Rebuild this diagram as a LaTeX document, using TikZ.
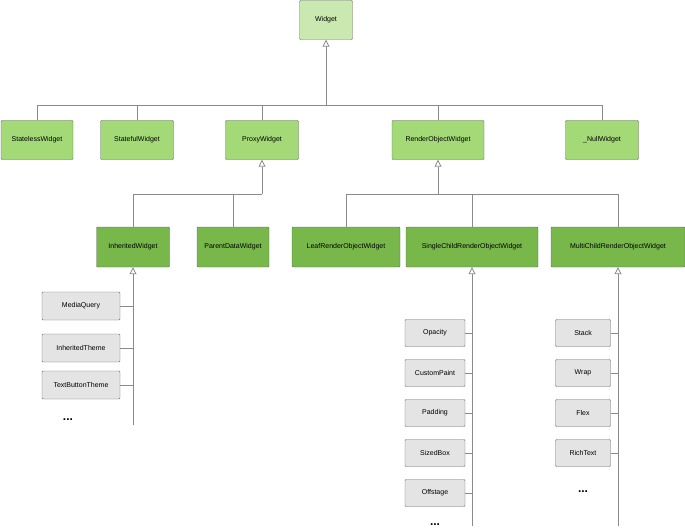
\documentclass[tikz,border=0pt]{standalone}
\usepackage{fontspec}
\setmainfont{Liberation Sans}
\usetikzlibrary{arrows.meta}
\definecolor{lightgreen}{HTML}{C9E9B0}
\definecolor{midgreen}{HTML}{A3D977}
\definecolor{darkgreen}{HTML}{78B84B}
\definecolor{boxgray}{HTML}{E4E4E4}
\definecolor{linegray}{HTML}{8A8A8A}
\tikzset{
  cls/.style={draw=black!60, rounded corners=1pt, font=\fontsize{7}{8}\selectfont, inner sep=0pt},
  extends/.style={draw=linegray, line width=0.8pt, -{Triangle[open, fill=white, length=7pt, width=7pt]}},
  link/.style={draw=linegray, line width=0.8pt}
}
\begin{document}
\begin{tikzpicture}[x=1pt, y=-1pt]
\useasboundingbox (0,0) rectangle (685,532);
% top
\node[cls, fill=lightgreen, minimum width=53pt, minimum height=39pt] (widget) at (326,20) {Widget};
% second row
\foreach \name/\txt/\x/\w in {stateless/StatelessWidget/37/72, stateful/StatefulWidget/137/73,
  proxy/ProxyWidget/262/73, render/RenderObjectWidget/438/92, nullw/\_NullWidget/602/73}
  \node[cls, fill=midgreen, minimum width=\w pt, minimum height=39pt] (\name) at (\x,140) {\txt};
% third row
\foreach \name/\txt/\x/\w in {inherited/InheritedWidget/133/73, parentdata/ParentDataWidget/233/72,
  leaf/LeafRenderObjectWidget/346/108, single/SingleChildRenderObjectWidget/472/132,
  multi/MultiChildRenderObjectWidget/618/134}
  \node[cls, fill=darkgreen, minimum width=\w pt, minimum height=40pt] (\name) at (\x,247) {\txt};
% leaves
\foreach \name/\txt/\y in {mq/MediaQuery/306, it/InheritedTheme/348, tbt/TextButtonTheme/385}
  \node[cls, fill=boxgray, minimum width=78pt, minimum height=28pt] (\name) at (81,\y) {\txt};
\foreach \name/\txt/\y in {opacity/Opacity/333, paint/CustomPaint/373, padding/Padding/413,
  sized/SizedBox/453, offstage/Offstage/493}
  \node[cls, fill=boxgray, minimum width=60pt, minimum height=27pt] (\name) at (435,\y) {\txt};
\foreach \name/\txt/\y in {stack/Stack/333, wrap/Wrap/373, flex/Flex/413, rich/RichText/453}
  \node[cls, fill=boxgray, minimum width=55pt, minimum height=27pt] (\name) at (583,\y) {\txt};
\node[font=\bfseries\large] (dotsa) at (68,420) {...};
\node[font=\bfseries\large] (dotsb) at (435,525) {...};
\node[font=\bfseries\large] (dotsc) at (583,492) {...};
% connectors
\coordinate (top) at (326,105);
\draw[link] (stateless.north) |- (nullw.north |- top);
\draw[link] (nullw.north) -- (nullw.north |- top);
\foreach \n in {stateful, proxy, render} \draw[link] (\n.north) -- (\n.north |- top);
\draw[extends] (top) -- (widget.south);
\coordinate (pbar) at (262,194);
\draw[link] (inherited.north) |- (pbar);
\draw[link] (parentdata.north) -- (parentdata.north |- pbar);
\draw[extends] (pbar) -- (proxy.south);
\coordinate (rbar) at (438,194);
\draw[link] (leaf.north) |- (multi.north |- rbar) -- (multi.north);
\draw[link] (single.north) -- (single.north |- rbar);
\draw[extends] (rbar) -- (render.south);
\coordinate (iend) at (133,425);
\coordinate (send) at (472,526);
\coordinate (mend) at (618,526);
\draw[extends] (iend) -- (inherited.south);
\draw[extends] (send) -- (single.south);
\draw[extends] (mend) -- (multi.south);
\foreach \n in {mq, it, tbt} \draw[link] (\n.east) -- (\n.east -| iend);
\foreach \n in {opacity, paint, padding, sized, offstage} \draw[link] (\n.east) -- (\n.east -| send);
\foreach \n in {stack, wrap, flex, rich} \draw[link] (\n.east) -- (\n.east -| mend);
\end{tikzpicture}
\end{document}
